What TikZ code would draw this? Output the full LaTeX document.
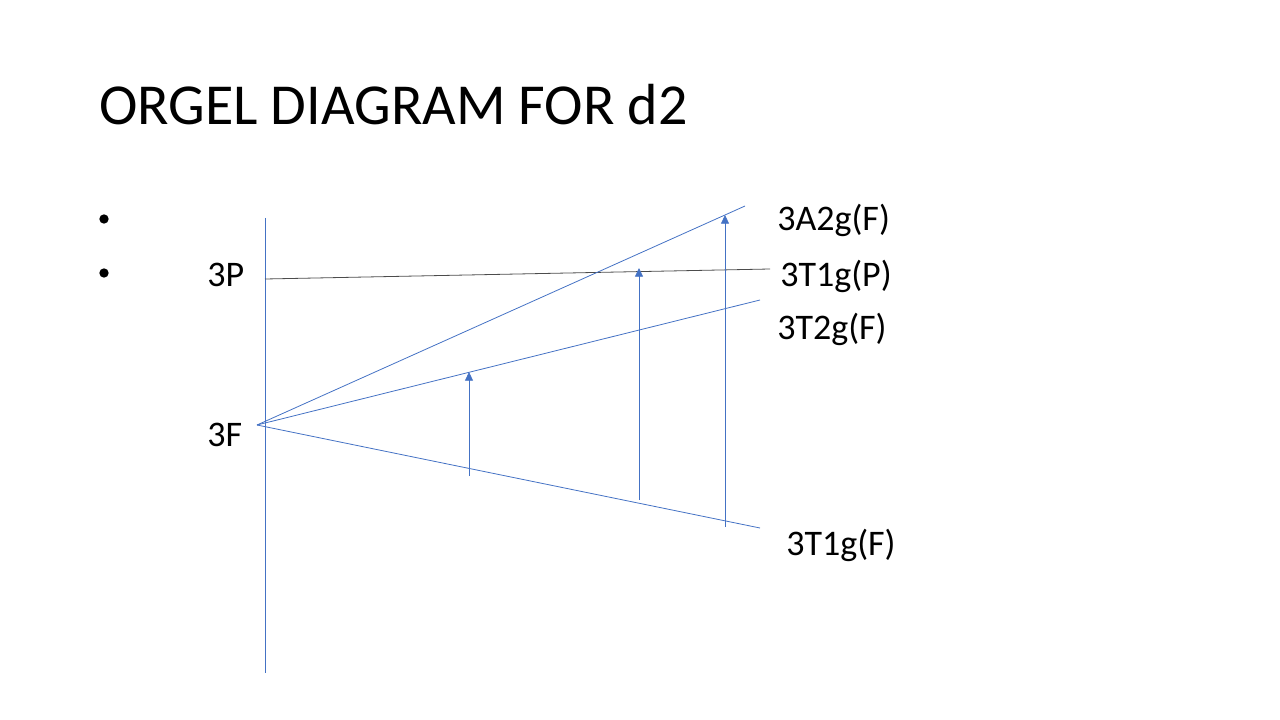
\documentclass[tikz,border=0pt]{standalone}
\usepackage{fontspec}
\setmainfont{Carlito}
\usetikzlibrary{arrows.meta}
\definecolor{lineblue}{HTML}{4472C4}

\begin{document}
\begin{tikzpicture}[x=0.75pt,y=-0.75pt,
  level/.style={draw=lineblue,line width=0.6pt},
  trans/.style={draw=lineblue,line width=0.6pt,-{Triangle[width=6pt,length=6.5pt]}},
  term/.style={anchor=base west,inner sep=0pt,font=\fontsize{27}{32}\selectfont},
  dot/.style={circle,fill=black,inner sep=0pt,minimum size=7pt}]
\useasboundingbox (0,0) rectangle (1280,720);

\node[anchor=base west,inner sep=0pt,font=\fontsize{43.5}{50}\selectfont] (title) at (99,125) {ORGEL DIAGRAM FOR d2};
\node[dot] (b1) at (104,219) {};
\node[dot] (b2) at (104,273) {};

\coordinate (axtop) at (265,218);
\coordinate (axbot) at (265,673);
\coordinate (F) at (257,425);
\coordinate (Pa) at (265,279);
\coordinate (Pb) at (770,269);
\coordinate (A2g) at (745,206);
\coordinate (T2g) at (760,300);
\coordinate (T1gF) at (760,528);

\draw[level] (axtop) -- (axbot);
\draw[draw=black!70,line width=0.6pt] (Pa) -- (Pb);
\draw[level] (F) -- (A2g);
\draw[level] (F) -- (T2g);
\draw[level] (F) -- (T1gF);

\coordinate (s1) at (469,476); \coordinate (e1) at (469,372);
\coordinate (s2) at (639,500); \coordinate (e2) at (639,268);
\coordinate (s3) at (725,527); \coordinate (e3) at (725,215);
\draw[trans] (s1) -- (e1);
\draw[trans] (s2) -- (e2);
\draw[trans] (s3) -- (e3);

\node[term] (lP) at (207,286) {3P};
\node[term] (lF) at (207,446) {3F};
\node[term] (lA2g) at (777,231) {3A2g(F)};
\node[term] (lT1gP) at (780,286) {3T1g(P)};
\node[term] (lT2g) at (777,339) {3T2g(F)};
\node[term] (lT1gF) at (786,555) {3T1g(F)};
\end{tikzpicture}
\end{document}
